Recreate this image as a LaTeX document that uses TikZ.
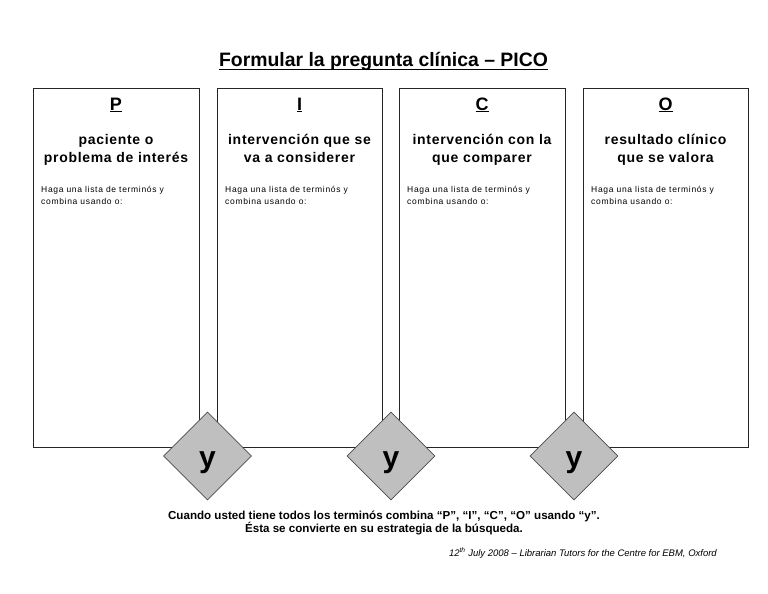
\documentclass[tikz,border=0pt]{standalone}
\usepackage{fontspec}
\setmainfont{Liberation Sans}
\newfontfamily\spaced[LetterSpace=5]{Liberation Sans}
\newfontfamily\smallspaced[LetterSpace=8]{Liberation Sans}
\usetikzlibrary{shapes.geometric}
\tikzset{
  column/.style={draw=black!85,line width=1pt,fill=white},
  link/.style={diamond,draw=black!70,line width=.8pt,fill=black!25,minimum width=88pt,minimum height=88pt,inner sep=0pt,aspect=1,font=\bfseries\fontsize{30}{30}\selectfont},
  letter/.style={anchor=base,inner sep=0pt,font=\bfseries\fontsize{18}{18}\selectfont},
  head/.style={anchor=base,inner sep=0pt,align=center,font=\spaced\bfseries\fontsize{14}{18}\selectfont},
  hint/.style={anchor=north west,inner sep=0pt,align=left,font=\smallspaced\fontsize{8.5}{11.3}\selectfont},
}
\begin{document}
\begin{tikzpicture}[x=1pt,y=-1pt]
\useasboundingbox (0,0) rectangle (768,594);
\fill[white] (0,0) rectangle (768,594);
\node[anchor=base,inner sep=0pt,font=\bfseries\fontsize{19.4}{21}\selectfont] (title) at (383.5,66.5) {\underline{\raisebox{0pt}[\height][1.6pt]{Formular la pregunta clínica – PICO}}};
\path[column] (33,88) rectangle (199,447);
\path[column] (217,88) rectangle (382,447);
\path[column] (399,88) rectangle (565,447);
\path[column] (583,88) rectangle (748,447);
\node[letter] (lp) at (116,110) {\underline{P}};
\node[letter] (li) at (299.5,110) {\underline{I}};
\node[letter] (lc) at (482,110) {\underline{C}};
\node[letter] (lo) at (665.5,110) {\underline{O}};
\node[head] (hp) at (116,162) {paciente o\\problema de interés};
\node[head] (hi) at (299.5,162) {intervención que se\\va a considerer};
\node[head] (hc) at (482,162) {intervención con la\\que comparer};
\node[head] (ho) at (665.5,162) {resultado clínico\\que se valora};
\node[hint] (tp) at (41,186.5) {Haga una lista de terminós y\\combina usando o:};
\node[hint] (ti) at (225,186.5) {Haga una lista de terminós y\\combina usando o:};
\node[hint] (tc) at (407,186.5) {Haga una lista de terminós y\\combina usando o:};
\node[hint] (to) at (591,186.5) {Haga una lista de terminós y\\combina usando o:};
\node[link] (d1) at (207.5,456) {\smash{\raisebox{-11pt}{y}}};
\node[link] (d2) at (391,456) {\smash{\raisebox{-11pt}{y}}};
\node[link] (d3) at (574,456) {\smash{\raisebox{-11pt}{y}}};
\node[anchor=base,inner sep=0pt,align=center,font=\bfseries\fontsize{11.6}{13.5}\selectfont] (foot) at (384,532.5) {Cuando usted tiene todos los terminós combina “P”, “I”, “C”, “O” usando “y”.\\Ésta se convierte en su estrategia de la búsqueda.};
\node[anchor=base east,inner sep=0pt,font=\itshape\fontsize{9.5}{11}\selectfont] (credit) at (717,556) {12\textsuperscript{th} July 2008 – Librarian Tutors for the Centre for EBM, Oxford};
\end{tikzpicture}
\end{document}
